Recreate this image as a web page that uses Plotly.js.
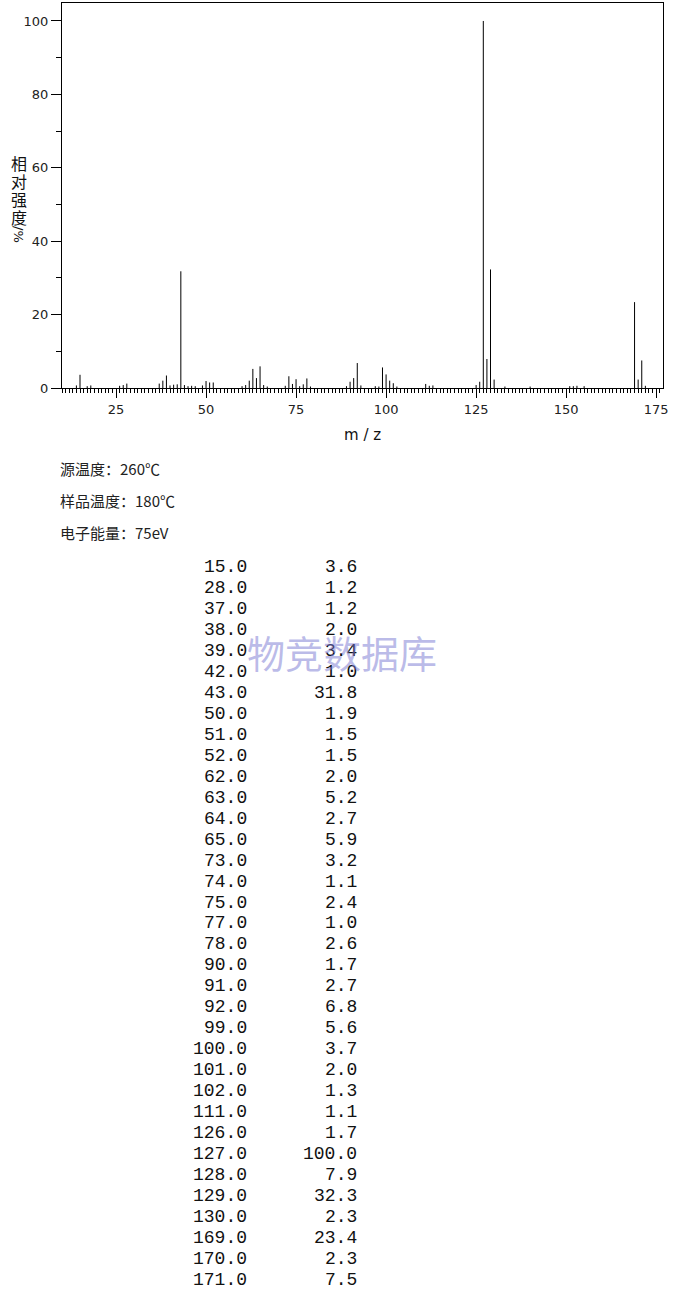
<!DOCTYPE html>
<html><head><meta charset="utf-8">
<script src="https://cdn.plot.ly/plotly-3.0.1.min.js"></script>
<style>html,body{margin:0;padding:0;background:#fff;}</style>
</head><body><div id="chart" style="width:680px;height:1304px;"></div>
<script>
// Listed peaks (m/z, relative intensity %)
const mzValues = [15,28,37,38,39,42,43,50,51,52,62,63,64,65,73,74,75,77,78,90,91,92,99,100,101,102,111,126,127,128,129,130,169,170,171];
const intensities = [3.6,1.2,1.2,2.0,3.4,1.0,31.8,1.9,1.5,1.5,2.0,5.2,2.7,5.9,3.2,1.1,2.4,1.0,2.6,1.7,2.7,6.8,5.6,3.7,2.0,1.3,1.1,1.7,100.0,7.9,32.3,2.3,23.4,2.3,7.5];
// Small unlisted peaks estimated from the plot
const smallMz = [14,17,18,26,27,40,41,44,45,46,47,49,60,61,66,67,72,76,79,89,93,97,98,103,112,113,125,133,140,151,152,153,155,172];
const smallInt = [0.7,0.5,0.7,0.6,0.8,0.7,0.9,0.8,0.5,0.6,0.5,0.7,0.5,0.8,0.8,0.4,0.6,0.5,0.4,0.5,0.7,0.5,0.4,0.4,0.6,0.7,0.8,0.4,0.4,0.5,0.5,0.6,0.5,0.6];
const infoLines = ["源温度：260℃", "样品温度：180℃", "电子能量：75eV"];
const yTitleChars = ["相","对","强","度"];
const yTitleTail = "/%";
const xTitle = "m / z";
const watermark = "物竞数据库";

const W = 680, H = 1304;
const L = 62, R = 663, T = 3, B = 388;
const px = x => (x - L) / (R - L);
const py = y => (B - y) / (B - T);

function sticks(ms, vs) {
  const xs = [], ys = [];
  ms.forEach((m, i) => { xs.push(m, m, null); ys.push(0, vs[i], null); });
  return {xs, ys};
}
const allMz = mzValues.concat(smallMz);
const allInt = intensities.concat(smallInt);
const s = sticks(allMz, allInt);

const traces = [{
  type: 'scatter', mode: 'lines', x: s.xs, y: s.ys,
  line: {color: '#000', width: 1}, hoverinfo: 'skip', showlegend: false
}];

const ann = [];
// y-axis title, stacked characters
yTitleChars.forEach((c, i) => {
  ann.push({xref:'paper', yref:'paper', x: px(19), y: py(163 + 18*i), text: c, showarrow:false,
    xanchor:'center', yanchor:'middle', font:{family:'Noto Sans CJK SC', size:16, color:'#111'}});
});
ann.push({xref:'paper', yref:'paper', x: px(19), y: py(234), text: yTitleTail, showarrow:false, textangle: 90,
  xanchor:'center', yanchor:'middle', font:{family:'DejaVu Sans', size:13, color:'#111'}});
// x-axis title
ann.push({xref:'paper', yref:'paper', x: px(362), y: py(435), text: xTitle, showarrow:false,
  xanchor:'center', yanchor:'middle', font:{family:'DejaVu Sans', size:15, color:'#111'}});
// info lines
infoLines.forEach((t, i) => {
  ann.push({xref:'paper', yref:'paper', x: px(58), y: py(468 + 32*i), text: t, showarrow:false,
    xanchor:'left', yanchor:'middle', font:{family:'Noto Sans CJK SC', size:15, color:'#222'}});
});
// table
mzValues.forEach((m, i) => {
  const yy = py(567 + 20.97*i);
  ann.push({xref:'paper', yref:'paper', x: px(249), y: yy, text: m.toFixed(1), showarrow:false,
    xanchor:'right', yanchor:'middle', font:{family:'Liberation Mono', size:18, color:'#111'}});
  ann.push({xref:'paper', yref:'paper', x: px(359), y: yy, text: intensities[i].toFixed(1), showarrow:false,
    xanchor:'right', yanchor:'middle', font:{family:'Liberation Mono', size:18, color:'#111'}});
});
// watermark
ann.push({xref:'paper', yref:'paper', x: px(342), y: py(651), text: watermark, showarrow:false,
  xanchor:'center', yanchor:'middle', font:{family:'Noto Sans CJK SC', size:38, color:'rgba(120,120,210,0.5)'}});

const layout = {
  width: W, height: H,
  margin: {l: L, r: W - R, t: T, b: H - B, pad: 0},
  paper_bgcolor: '#fff', plot_bgcolor: '#fff',
  showlegend: false,
  xaxis: {
    range: [10.0, 176.9], tickmode: 'linear', tick0: 0, dtick: 25,
    ticks: 'outside', ticklen: 9, tickwidth: 1, tickcolor: '#000',
    minor: {dtick: 1, tick0: 0, ticks: 'outside', ticklen: 4, tickwidth: 1, tickcolor: '#000', showgrid: false},
    showline: true, linecolor: '#000', linewidth: 1, mirror: true,
    showgrid: false, zeroline: false,
    tickfont: {family: 'DejaVu Sans', size: 13, color: '#222'}
  },
  yaxis: {
    range: [0, 104.9], tickmode: 'linear', tick0: 0, dtick: 20,
    ticks: 'outside', ticklen: 10, tickwidth: 1, tickcolor: '#000',
    minor: {dtick: 10, tick0: 0, ticks: 'outside', ticklen: 5, tickwidth: 1, tickcolor: '#000', showgrid: false},
    showline: true, linecolor: '#000', linewidth: 1, mirror: true,
    showgrid: false, zeroline: false,
    tickfont: {family: 'DejaVu Sans', size: 13, color: '#222'}
  },
  annotations: ann
};
Plotly.newPlot('chart', traces, layout, {staticPlot: true, displayModeBar: false});
</script></body></html>
